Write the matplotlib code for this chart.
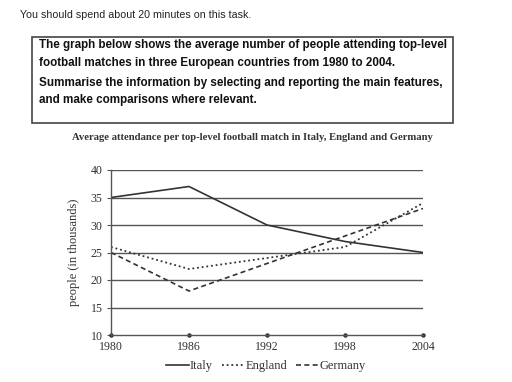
import matplotlib
matplotlib.use('Agg')
import matplotlib.pyplot as plt
from matplotlib.patches import Rectangle

years = [1980, 1986, 1992, 1998, 2004]
italy = [35, 37, 30, 27, 25]
england = [26, 22, 24, 26, 34]
germany = [25, 18, 23, 28, 33]
yticks = [10, 15, 20, 25, 30, 35, 40]

serif = ['Liberation Serif', 'DejaVu Serif']
sans = ['Liberation Sans', 'DejaVu Sans']
ink = '#333333'

fig = plt.figure(figsize=(5.12, 3.82), dpi=100)

# task text above the chart
fig.text(20/512, 1-15/382, 'You should spend about 20 minutes on this task.',
         family=sans, fontsize=7.7, va='center', color='#222222')
fig.patches.append(Rectangle((32/512, 1-123/382), 421/512, 86/382,
                             transform=fig.transFigure, fill=False,
                             edgecolor='#444444', lw=1.2))
task = ['The graph below shows the average number of people attending top-level',
        'football matches in three European countries from 1980 to 2004.',
        'Summarise the information by selecting and reporting the main features,',
        'and make comparisons where relevant.']
for line, y in zip(task, [45, 63, 83, 100]):
    fig.text(39/512, 1-y/382, line, family=sans, fontsize=8.35,
             fontweight='bold', va='center', color='#111111')

fig.text(252/512, 1-137/382,
         'Average attendance per top-level football match in Italy, England and Germany',
         family=serif, fontsize=7.7, fontweight='bold', ha='center', va='center',
         color='#333333')

ax = fig.add_axes([111/512, 1-335/382, 312/512, 165/382])
ax.plot(years, italy, color=ink, lw=1.2, ls='-', label='Italy')
ax.plot(years, england, color=ink, lw=1.3, ls=(0, (1, 1.6)), label='England')
ax.plot(years, germany, color=ink, lw=1.2, ls=(0, (3, 2)), label='Germany')

for y in yticks[1:]:
    ax.axhline(y, color='#555555', lw=1.0, zorder=0)

ax.set_xlim(1980, 2004)
ax.set_ylim(10, 40)
ax.set_xticks(years)
ax.set_yticks(yticks)
ax.plot(years, [10]*len(years), ls='none', marker='o', ms=2.2, color=ink, clip_on=False)
for s in ['top', 'right']:
    ax.spines[s].set_visible(False)
for s in ['left', 'bottom']:
    ax.spines[s].set_color('#555555')
    ax.spines[s].set_linewidth(1.0)
ax.tick_params(axis='both', colors='#555555', labelcolor='#333333', length=3,
               width=0.8, labelsize=8.6)
ax.tick_params(axis='x', length=0, pad=4)
ax.tick_params(axis='y', direction='out', length=3, pad=3)
for lab in ax.get_xticklabels() + ax.get_yticklabels():
    lab.set_family(serif)
ax.set_ylabel('people (in thousands)', family=serif, fontsize=9, color='#333333',
              labelpad=8)

fig.legend(loc='center', bbox_to_anchor=(266/512, 1-366/382), ncol=3, frameon=False,
           prop={'family': serif, 'size': 9}, handlelength=1.8, handletextpad=0.1,
           columnspacing=0.7, labelcolor='#333333')

fig.savefig('out.png', dpi=100, facecolor='white')
